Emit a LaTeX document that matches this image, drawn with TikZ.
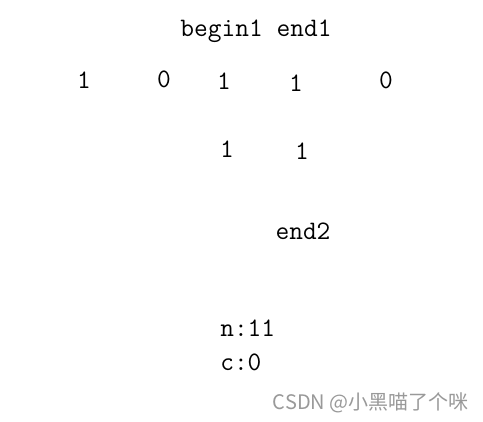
\documentclass[tikz,border=0pt]{standalone}
\usepackage{fontspec}
\usepackage{xcolor}
\usepackage{tikz}
\newfontfamily\cjk{Noto Sans CJK SC}

\begin{document}
\begin{tikzpicture}[x=0.75pt,y=-0.75pt,
    every node/.style={draw=none,inner sep=0pt,font=\ttfamily\fontsize{20}{24}\selectfont}]
             \useasboundingbox (0,0) rectangle (483,422);
             \node (ptr1) at (256, 31) {begin1 end1};

             \node (a1) at (84, 80) {1};
             \node (a2) at (164, 79) {0};
             \node (a3) at (224, 81) {1};
             \node (a4) at (296, 83) {1};
             \node (a5) at (386, 80) {0};

             \node (b1) at (227, 149) {1};
             \node (b2) at (302, 151) {1};

             \node (ptr2) at (303, 231) {end2};

             \node[anchor=west] (cnt) at (220, 328) {n:11};
             \node[anchor=west] (res) at (220, 362) {c:0};

             \node[anchor=east,text=black!40,font=\cjk\fontsize{15}{17}\selectfont] (mark) at (469, 403) {CSDN @小黑喵了个咪};
             \end{tikzpicture}
\end{document}
